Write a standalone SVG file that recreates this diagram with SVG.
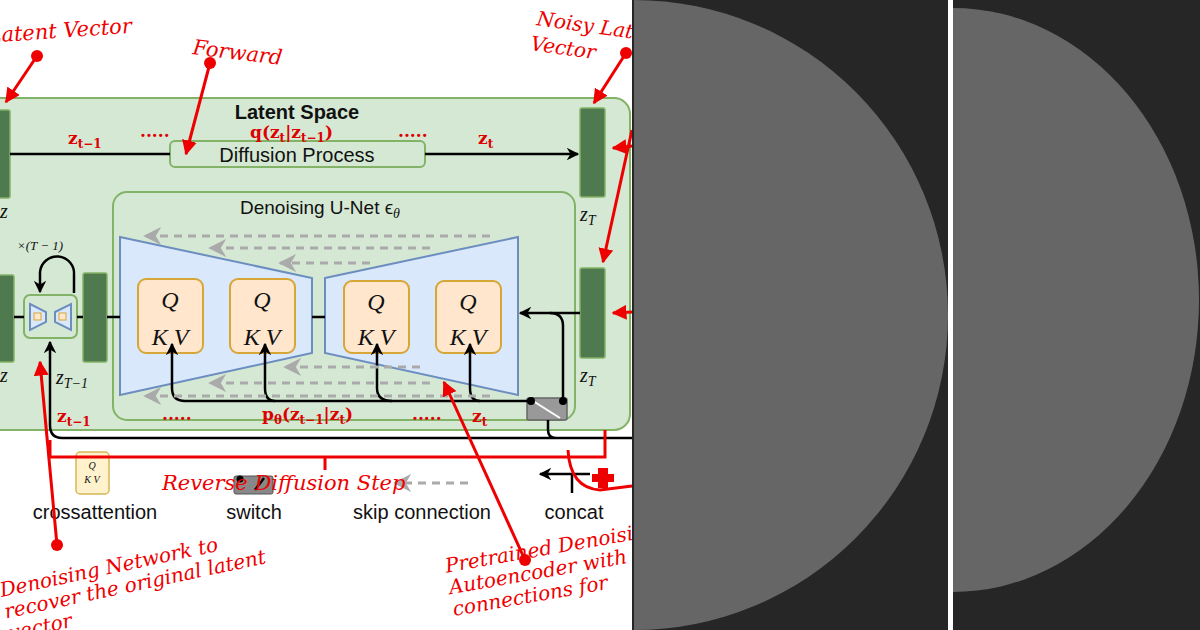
<svg xmlns="http://www.w3.org/2000/svg" width="1200" height="630" viewBox="0 0 1200 630">
<defs>
<marker id="ab" viewBox="0 0 10 10" refX="9" refY="5" markerWidth="5" markerHeight="5" orient="auto"><path d="M0,0 L10,5 L0,10 L3,5 z" fill="#000"/></marker>
<marker id="ag" viewBox="0 0 10 10" refX="9" refY="5" markerWidth="6" markerHeight="6" orient="auto"><path d="M0,0 L10,5 L0,10 L3,5 z" fill="#aaa"/></marker>
<marker id="ar" viewBox="0 0 10 10" refX="9" refY="5" markerWidth="5" markerHeight="5" orient="auto"><path d="M0,0 L10,5 L0,10 z" fill="#e00"/></marker>
<marker id="dr" viewBox="0 0 10 10" refX="5" refY="5" markerWidth="4" markerHeight="4"><circle cx="5" cy="5" r="5" fill="#e00"/></marker>
<clipPath id="c1"><rect x="634" y="0" width="314" height="630"/></clipPath>
<clipPath id="c2"><rect x="953" y="0" width="247" height="630"/></clipPath>
</defs>
<style>
.gbox{fill:#d5e8d4;stroke:#82b366;stroke-width:2}
.bar{fill:#4f7a4f;stroke:#82b366;stroke-width:1.5}
.trap{fill:#dae8fc;stroke:#6c8ebf;stroke-width:2}
.qkv{fill:#ffe6cc;stroke:#d6a636;stroke-width:2}
.ln{fill:none;stroke:#000;stroke-width:2.5}
.dash{fill:none;stroke:#aaa;stroke-width:3;stroke-dasharray:8 6}
.red{fill:none;stroke:#e00;stroke-width:3}
.t{font-family:"Liberation Sans",Arial,sans-serif;fill:#111}
.m{font-family:"Liberation Serif","DejaVu Serif",serif;font-style:italic;fill:#111}
.rm{font-family:"DejaVu Serif",serif;font-weight:bold;fill:#d00}
.hw{font-family:"DejaVu Serif",serif;font-style:italic;fill:#e00}
</style>
<rect width="1200" height="630" fill="#fff"/>
<g id="latent-space">
<rect class="gbox" x="-20" y="98" width="650" height="332" rx="16"/>
<text class="t" x="297" y="119" font-size="20" font-weight="bold" text-anchor="middle">Latent Space</text>
</g>
<g id="unet">
<rect class="gbox" x="113" y="192" width="462" height="228" rx="14"/>
<text class="t" x="320" y="214" font-size="19" text-anchor="middle">Denoising U-Net ϵ<tspan font-size="14" dy="4" class="m">θ</tspan></text>
<polygon class="trap" points="120,237 312,278 312,353 120,395"/>
<polygon class="trap" points="325,278 518,237 518,395 325,353"/>
</g>
<g id="qkv-boxes">
<rect class="qkv" x="138" y="279" width="65" height="74" rx="8"/>
<rect class="qkv" x="230" y="279" width="65" height="74" rx="8"/>
<rect class="qkv" x="344" y="281" width="65" height="72" rx="8"/>
<rect class="qkv" x="436" y="281" width="65" height="72" rx="8"/>
<g class="m" font-size="24" text-anchor="middle">
<text x="170" y="308">Q</text><text x="170" y="345">K V</text>
<text x="262" y="308">Q</text><text x="262" y="345">K V</text>
<text x="376" y="310">Q</text><text x="376" y="345">K V</text>
<text x="468" y="310">Q</text><text x="468" y="345">K V</text>
</g>
</g>
<g id="diffusion-process">
<rect class="gbox" x="170" y="141" width="255" height="26" rx="5"/>
<text class="t" x="297" y="162" font-size="20" text-anchor="middle">Diffusion Process</text>
</g>
<g id="bars">
<rect class="bar" x="-8" y="110" width="18" height="88" rx="2"/>
<rect class="bar" x="580" y="108" width="25" height="89" rx="2"/>
<rect class="bar" x="-8" y="275" width="22" height="87" rx="2"/>
<rect class="bar" x="83" y="273" width="24" height="89" rx="2"/>
<rect class="bar" x="580" y="268" width="25" height="90" rx="2"/>
<text class="m" x="0" y="218" font-size="20">z</text>
<text class="m" x="580" y="221" font-size="20">z<tspan font-size="14" dy="4">T</tspan></text>
<text class="m" x="0" y="382" font-size="20">z</text>
<text class="m" x="56" y="384" font-size="20">z<tspan font-size="14" dy="4">T−1</tspan></text>
<text class="m" x="580" y="382" font-size="20">z<tspan font-size="14" dy="4">T</tspan></text>
</g>
<g id="small-unet">
<rect class="gbox" x="24" y="295" width="53" height="43" rx="6"/>
<polygon class="trap" stroke-width="1.5" points="30,304 46,312 46,322 30,330"/>
<polygon class="trap" stroke-width="1.5" points="55,312 71,304 71,330 55,322"/>
<rect x="34" y="313" width="7" height="7" fill="#ffe6cc" stroke="#d6a636"/>
<rect x="59" y="313" width="7" height="7" fill="#ffe6cc" stroke="#d6a636"/>
<text class="m" x="40" y="250" font-size="13" text-anchor="middle" font-style="normal">×(<tspan font-style="italic">T</tspan> − 1)</text>
</g>
<g id="switch">
<rect x="527" y="398" width="40" height="22" fill="#999" stroke="#666" stroke-width="1.5" rx="2"/>
<line x1="533" y1="401" x2="560" y2="418" stroke="#fff" stroke-width="2"/>
<circle cx="531" cy="401" r="4" fill="#000"/><circle cx="563" cy="401" r="4" fill="#000"/>
</g>
<g id="connectors">
<line class="ln" x1="10" y1="154" x2="170" y2="154"/>
<line class="ln" x1="425" y1="154" x2="578" y2="154" marker-end="url(#ab)"/>
<line class="ln" stroke-width="2" x1="14" y1="317" x2="24" y2="317"/>
<line class="ln" stroke-width="2" x1="77" y1="317" x2="83" y2="317"/>
<line class="ln" stroke-width="2" x1="107" y1="317" x2="120" y2="317"/>
<line class="ln" stroke-width="2" x1="312" y1="317" x2="325" y2="317"/>
<path class="ln" d="M74,293 V275 A17,17 0 0 0 40,272 V292" marker-end="url(#ab)"/>
<path class="ln" d="M531,401 H185 Q172,401 172,388 V344" marker-end="url(#ab)"/>
<path class="ln" d="M275,401 Q265,401 265,388 V344" marker-end="url(#ab)"/>
<path class="ln" d="M392,401 Q377,401 377,388 V344" marker-end="url(#ab)"/>
<path class="ln" d="M480,401 Q470,401 470,388 V344" marker-end="url(#ab)"/>
<path class="ln" d="M580,313 H520" marker-end="url(#ab)"/>
<path class="ln" d="M563,401 V326 Q563,313 550,313"/>
<path class="ln" d="M548,420 V430 Q548,438 556,438 H640 M630,438 H62 Q50,438 50,425 V342" marker-end="url(#ab)"/>
<path class="dash" d="M490,236 H145" marker-end="url(#ag)"/>
<path class="dash" d="M430,248 H210" marker-end="url(#ag)"/>
<path class="dash" d="M370,263 H280" marker-end="url(#ag)"/>
<path class="dash" d="M420,367 H285" marker-end="url(#ag)"/>
<path class="dash" d="M430,383 H210" marker-end="url(#ag)"/>
<path class="dash" d="M490,396 H145" marker-end="url(#ag)"/>
</g>
<g id="math-labels" font-size="17">
<text class="rm" x="68" y="144">z<tspan font-size="12" dy="4">t−1</tspan></text>
<text class="rm" x="140" y="137">.....</text>
<text class="rm" x="250" y="138">q(z<tspan font-size="12" dy="4">t</tspan><tspan dy="-4">|z</tspan><tspan font-size="12" dy="4">t−1</tspan><tspan dy="-4">)</tspan></text>
<text class="rm" x="398" y="137">.....</text>
<text class="rm" x="478" y="144">z<tspan font-size="12" dy="4">t</tspan></text>
<text class="rm" x="57" y="422">z<tspan font-size="12" dy="4">t−1</tspan></text>
<text class="rm" x="162" y="420">.....</text>
<text class="rm" x="262" y="420">p<tspan font-size="12" dy="4">θ</tspan><tspan dy="-4">(z</tspan><tspan font-size="12" dy="4">t−1</tspan><tspan dy="-4">|z</tspan><tspan font-size="12" dy="4">t</tspan><tspan dy="-4">)</tspan></text>
<text class="rm" x="412" y="420">.....</text>
<text class="rm" x="472" y="422">z<tspan font-size="12" dy="4">t</tspan></text>
</g>
<g id="legend">
<rect x="76" y="452" width="33" height="42" rx="4" fill="#fff2cc" stroke="#d6b656" stroke-width="1.5"/>
<text class="m" x="92" y="469" font-size="10" text-anchor="middle">Q</text>
<text class="m" x="92" y="483" font-size="10" text-anchor="middle">K V</text>
<text class="t" x="95" y="519" font-size="20" text-anchor="middle">crossattention</text>
<rect x="234" y="476" width="39" height="18" rx="2" fill="#888" stroke="#555"/>
<circle cx="240" cy="479" r="3.5" fill="#000"/><line x1="255" y1="490" x2="264" y2="478" stroke="#000" stroke-width="2.5"/>
<text class="t" x="254" y="519" font-size="20" text-anchor="middle">switch</text>
<path class="dash" d="M468,483 H395" marker-end="url(#ag)"/>
<text class="t" x="422" y="519" font-size="20" text-anchor="middle">skip connection</text>
<path class="ln" stroke-width="2" d="M590,474 H540" marker-end="url(#ab)"/>
<line class="ln" stroke-width="2" x1="572" y1="474" x2="572" y2="493"/>
<text class="t" x="574" y="519" font-size="20" text-anchor="middle">concat</text>
</g>
<g id="annotations">
<text class="hw" x="-12" y="42" font-size="21" transform="rotate(-4 0 42)">Latent Vector</text>
<line class="red" x1="37" y1="56" x2="6" y2="102" marker-start="url(#dr)" marker-end="url(#ar)"/>
<text class="hw" x="192" y="54" font-size="21" transform="rotate(7 192 54)">Forward</text>
<line class="red" x1="210" y1="63" x2="186" y2="154" marker-start="url(#dr)" marker-end="url(#ar)"/>
<text class="hw" x="536" y="25" font-size="20" transform="rotate(8 536 25)">Noisy Latent</text>
<text class="hw" x="530" y="50" font-size="20" transform="rotate(8 530 50)">Vector</text>
<line class="red" x1="626" y1="53" x2="594" y2="103" marker-start="url(#dr)" marker-end="url(#ar)"/>
<line class="red" x1="632" y1="130" x2="603" y2="262" marker-end="url(#ar)"/>
<line class="red" x1="632" y1="146" x2="613" y2="148" marker-end="url(#ar)"/>
<line class="red" x1="632" y1="312" x2="613" y2="313" marker-end="url(#ar)"/>
<path class="red" d="M50,440 V457 H325 V470 M325,457 H605 V430"/>
<text class="hw" x="162" y="490" font-size="21">Reverse Diffusion Step</text>
<line class="red" x1="57" y1="545" x2="40" y2="362" marker-start="url(#dr)" marker-end="url(#ar)"/>
<g transform="rotate(-12 60 560)">
<text class="hw" x="-5" y="584" font-size="20">Denoising Network to</text>
<text class="hw" x="-5" y="606" font-size="20">recover the original latent</text>
<text class="hw" x="-5" y="628" font-size="20">vector</text>
</g>
<line class="red" x1="525" y1="560" x2="444" y2="382" marker-start="url(#dr)" marker-end="url(#ar)"/>
<g transform="rotate(-10 450 570)">
<text class="hw" x="446" y="572" font-size="20">Pretrained Denoising</text>
<text class="hw" x="446" y="594" font-size="20">Autoencoder with skip</text>
<text class="hw" x="446" y="616" font-size="20">connections for</text>
</g>
<path class="red" d="M568,450 Q570,488 600,490 L632,486"/>
<path d="M598,468 h10 v6 h6 v8 h-6 v6 h-10 v-6 h-6 v-8 h6 z" fill="#e00"/>
</g>
<rect x="632" y="0" width="316" height="630" fill="#262626"/>
<ellipse cx="634" cy="315" rx="314" ry="315" fill="#666" clip-path="url(#c1)"/>
<rect x="948" y="0" width="5" height="630" fill="#fff"/>
<rect x="953" y="0" width="247" height="630" fill="#262626"/>
<ellipse cx="953" cy="300" rx="246" ry="292" fill="#666" clip-path="url(#c2)"/>
</svg>
